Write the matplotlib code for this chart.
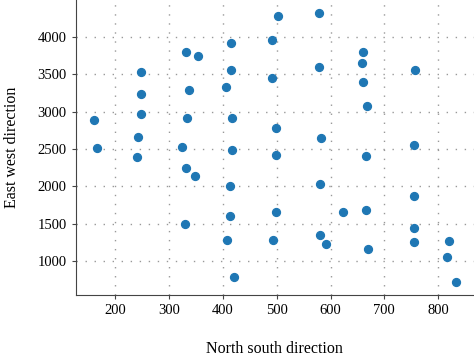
import matplotlib.pyplot as plt

plt.rcParams['font.family'] = ['Liberation Serif', 'DejaVu Serif']

north_south = [415, 332, 353, 248, 415, 337, 405, 247, 160, 247, 333, 416, 166, 241, 324, 416, 240,
               503, 579, 492, 661, 659, 579, 492, 660, 757, 667, 498, 582, 756, 498, 666,
               332, 347, 413, 413, 330, 408, 421,
               581, 755, 499, 624, 666, 755, 493, 581, 591, 669, 755, 821, 817, 833]
east_west = [3920, 3800, 3742, 3532, 3564, 3291, 3328, 3234, 2887, 2963, 2913, 2909, 2508, 2663, 2529, 2485, 2392,
             4285, 4316, 3964, 3799, 3652, 3598, 3455, 3398, 3562, 3080, 2782, 2643, 2549, 2420, 2407,
             2241, 2139, 2000, 1598, 1501, 1282, 778,
             2027, 1872, 1657, 1657, 1684, 1447, 1277, 1353, 1224, 1157, 1256, 1264, 1055, 720]

fig = plt.figure(figsize=(4.74, 3.57), dpi=100)
ax = fig.add_axes([0.160, 0.173, 0.840, 0.827])
ax.scatter(north_south, east_west, s=32, color='#1f77b4', zorder=3)

ax.set_xticks([200, 300, 400, 500, 600, 700, 800])
ax.set_yticks([1000, 1500, 2000, 2500, 3000, 3500, 4000])
ax.grid(True, linestyle=(0, (1, 5.5)), color='#999999', linewidth=1.0)
ax.spines['top'].set_visible(False)
ax.spines['right'].set_visible(False)
ax.spines['left'].set_color('#444444')
ax.spines['bottom'].set_color('#444444')
ax.tick_params(labelsize=10.5, length=3, color='#444444')
ax.set_xlabel("North south direction", fontsize=11.5, labelpad=17)
ax.set_ylabel("East west direction", fontsize=11.5, labelpad=13)

fig.savefig("out.png", dpi=100)
